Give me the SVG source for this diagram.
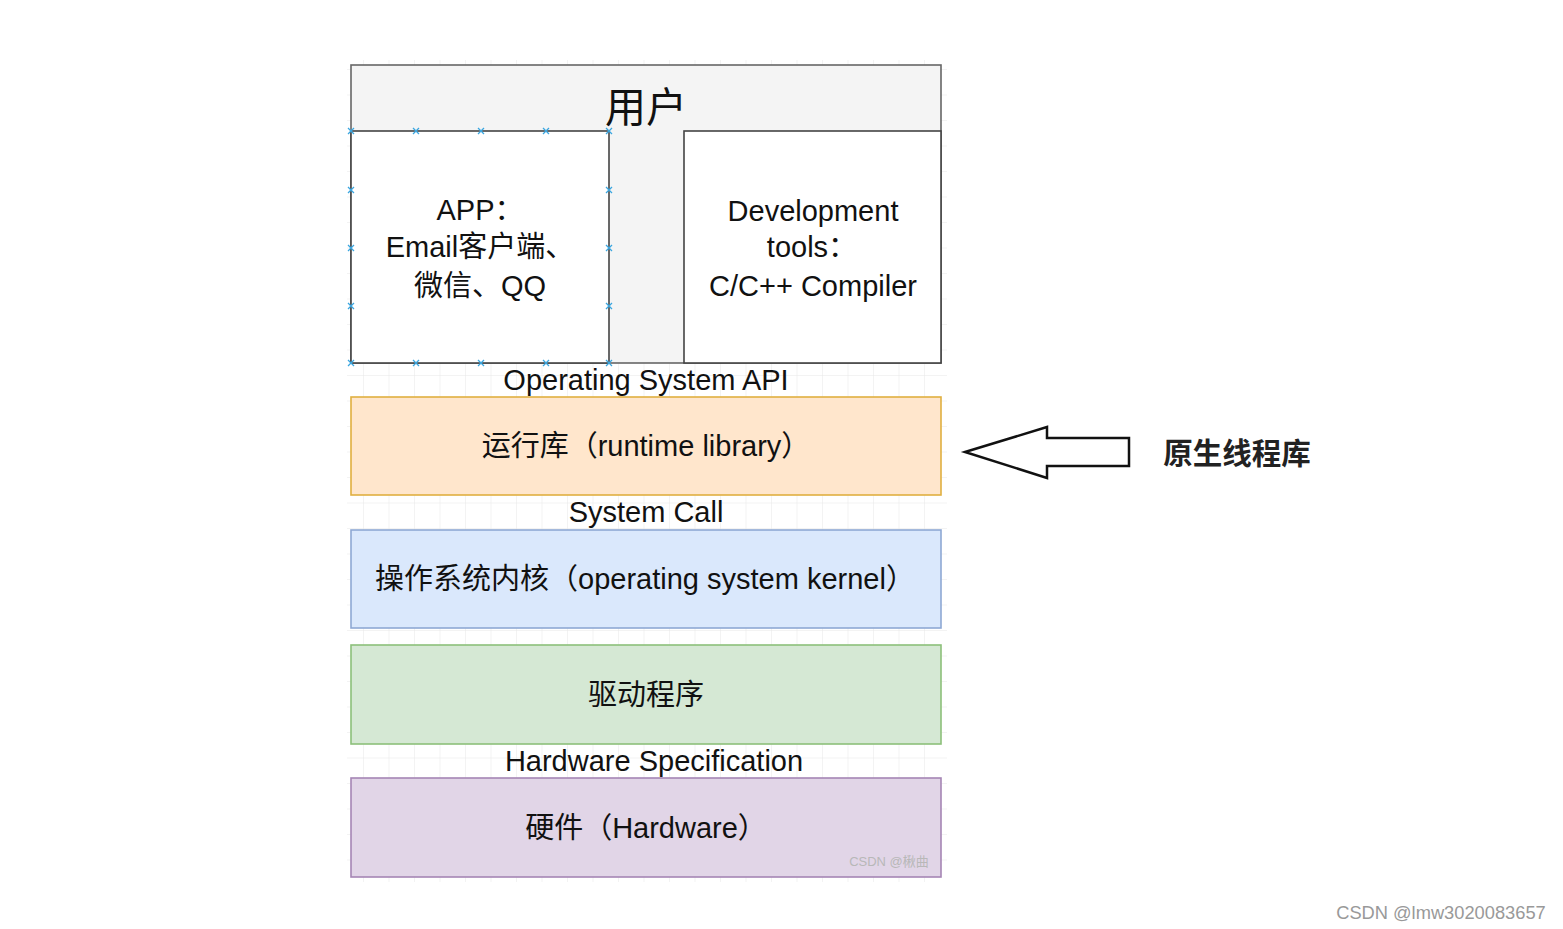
<svg xmlns="http://www.w3.org/2000/svg" width="1563" height="929" viewBox="0 0 1563 929">
<style>
text{font-family:"Liberation Sans","Noto Sans CJK SC",sans-serif;fill:#111;text-anchor:middle;dominant-baseline:central}
.t{font-size:29px}
.box{stroke-width:1.6}
.mk{stroke:#3aa6e0;stroke-width:1.3}
</style>
<defs>
<pattern id="grid" x="363" y="375" width="25.5" height="25.5" patternUnits="userSpaceOnUse">
<path d="M0 0H25.5M0 0V25.5" fill="none" stroke="#e8e8e8" stroke-width="1"/>
</pattern>
<g id="x"><path d="M-3 -3L3 3M-3 3L3 -3" class="mk"/></g>
</defs>
<rect width="1563" height="929" fill="#fff"/>
<rect x="347" y="60" width="600" height="822" fill="url(#grid)"/>
<g id="user">
<rect x="351" y="65" width="590" height="298" fill="#f4f4f4" stroke="#666" class="box"/>
<text x="646" y="108" style="font-size:41px">用户</text>
</g>
<g id="app">
<rect x="351" y="131" width="258" height="232" fill="#fff" stroke="#444" class="box"/>
<text class="t" x="480" y="210">APP：</text>
<text class="t" x="480" y="247">Email客户端、</text>
<text class="t" x="480" y="286">微信、QQ</text>
<use href="#x" x="351" y="131"/><use href="#x" x="416" y="131"/><use href="#x" x="481" y="131"/><use href="#x" x="546" y="131"/><use href="#x" x="609" y="131"/>
<use href="#x" x="351" y="363"/><use href="#x" x="416" y="363"/><use href="#x" x="481" y="363"/><use href="#x" x="546" y="363"/><use href="#x" x="609" y="363"/>
<use href="#x" x="351" y="190"/><use href="#x" x="351" y="248"/><use href="#x" x="351" y="306"/>
<use href="#x" x="609" y="190"/><use href="#x" x="609" y="248"/><use href="#x" x="609" y="306"/>
</g>
<g id="devtools">
<rect x="684" y="131" width="257" height="232" fill="#fff" stroke="#444" class="box"/>
<text class="t" x="813" y="211">Development</text>
<text class="t" x="812" y="247">tools：</text>
<text class="t" x="813" y="286">C/C++ Compiler</text>
</g>
<g id="labels">
<text class="t" x="646" y="380">Operating System API</text>
<text class="t" x="646" y="512">System Call</text>
<text class="t" x="654" y="761">Hardware Specification</text>
</g>
<g id="runtime">
<rect x="351" y="397" width="590" height="98" fill="#ffe6cc" stroke="#e0b040" class="box"/>
<text class="t" x="646" y="446">运行库（runtime library）</text>
</g>
<g id="kernel">
<rect x="351" y="530" width="590" height="98" fill="#dae8fc" stroke="#8ea8d4" class="box"/>
<text class="t" x="645" y="579">操作系统内核（operating system kernel）</text>
</g>
<g id="driver">
<rect x="351" y="645" width="590" height="99" fill="#d5e8d4" stroke="#8cc07a" class="box"/>
<text class="t" x="646" y="695">驱动程序</text>
</g>
<g id="hardware">
<rect x="351" y="778" width="590" height="99" fill="#e1d5e7" stroke="#a585b5" class="box"/>
<text class="t" x="646" y="828">硬件（Hardware）</text>
<text x="889" y="861" style="font-size:13px;fill:#b8b8b8">CSDN @楸曲</text>
</g>
<g id="connectors">
<path d="M965 452L1047 427V438H1129V466H1047V478Z" fill="#fff" stroke="#111" stroke-width="2.5" stroke-linejoin="miter"/>
</g>
<g id="native">
<text x="1237" y="453" style="font-size:29.5px;font-weight:bold;fill:#222">原生线程库</text>
</g>
<text x="1441" y="912" style="font-size:18.3px;fill:#999">CSDN @lmw3020083657</text>
</svg>
